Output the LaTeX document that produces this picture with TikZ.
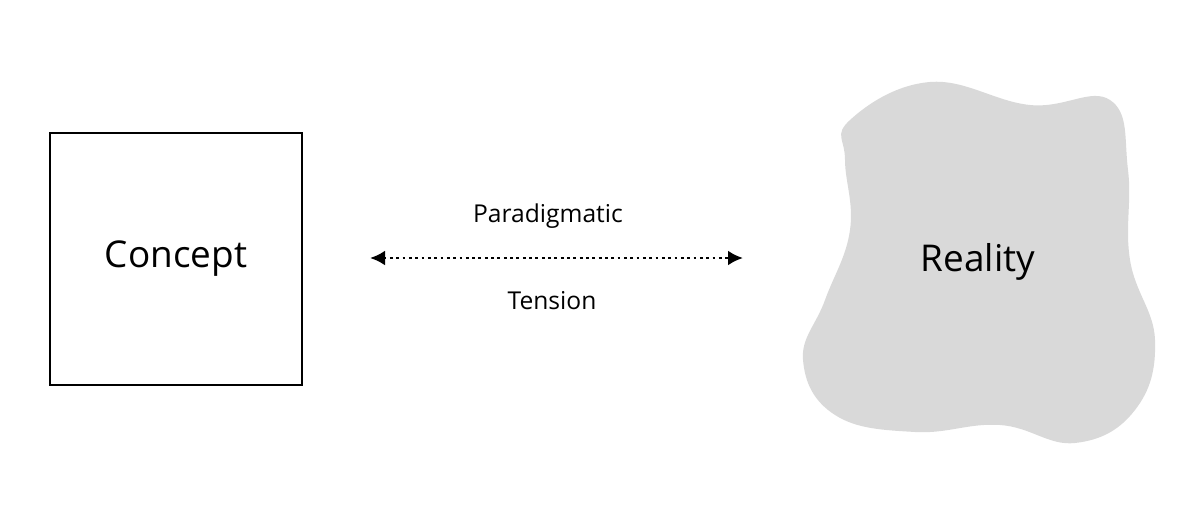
\documentclass[tikz,border=0pt]{standalone}
\usepackage{fontspec}
\setmainfont{Open Sans}
\usetikzlibrary{arrows.meta}
\definecolor{blobgray}{HTML}{D9D9D9}
\begin{document}
\begin{tikzpicture}[>={Latex[length=3mm,width=3mm]}]
\useasboundingbox (0,0) rectangle (24,10.3);

\node[draw, line width=1.3pt, minimum size=5.04cm] (concept) at (3.52,5.12) {};
\node[font=\fontsize{21}{24}\selectfont] at (concept.center) {Concept};

\fill[blobgray] plot[smooth cycle, tension=0.7] coordinates {
  (17,7.9) (18.6,8.66) (20.6,8.2) (22.2,8.3) (22.56,6.9) (22.6,5.1)
  (23.1,3.5) (22.7,2.1) (21.5,1.44) (20,1.8) (18.3,1.66) (16.7,2.0)
  (16.06,3.1) (16.5,4.3) (17,5.7) (16.9,7.1)};
\node[font=\fontsize{21}{24}\selectfont] (reality) at (19.56,5.06) {Reality};

\coordinate (left) at (7.4,5.14);
\coordinate (right) at (14.86,5.14);
\draw[<->, line width=1.6pt, dotted] (left) -- (right);
\node[font=\fontsize{14}{17}\selectfont] (para) at (10.96,5.98) {Paradigmatic};
\node[font=\fontsize{14}{17}\selectfont] (tens) at (11.04,4.28) {Tension};
\end{tikzpicture}
\end{document}
